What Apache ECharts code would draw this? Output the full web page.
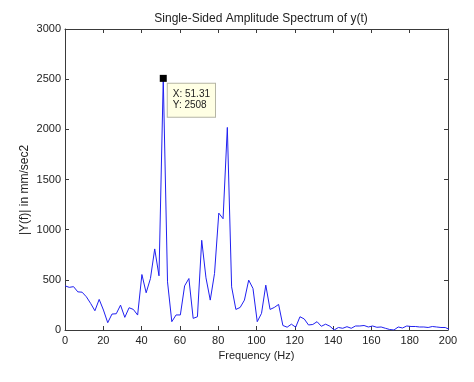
<!DOCTYPE html>
<html>
<head>
<meta charset="utf-8">
<script src="https://cdn.jsdelivr.net/npm/echarts@6/dist/echarts.min.js"></script>
<style>
html,body{margin:0;padding:0;background:#fff;}
#chart{width:474px;height:382px;}
</style>
</head>
<body>
<div id="chart"></div>
<script>
// Frequency bin spacing (Hz) - peak bin 23 sits at 51.31 Hz
const FREQ_STEP = 51.31 / 23;
// Amplitude |Y(f)| per frequency bin (mm/sec2)
const amplitude = [440, 425, 432, 380, 377, 331, 265, 192, 305, 199,
  73, 159, 162, 248, 126, 222, 205, 149, 553, 371,
  513, 808, 540, 2508, 480, 83, 150, 150, 440, 513,
  116, 132, 894, 520, 298, 563, 1165, 1109, 2019, 430,
  205, 225, 298, 497, 414, 83, 166, 447, 205, 225,
  255, 45, 28, 58, 28, 132, 110, 50, 55, 83,
  37, 58, 38, 0, 25, 17, 33, 17, 40, 40,
  45, 30, 40, 27, 30, 17, 5, 0, 30, 20,
  40, 35, 35, 30, 30, 25, 35, 30, 25, 25, 5];
const frequencies = amplitude.map((_, i) => i * FREQ_STEP);
const xTicks = [0, 20, 40, 60, 80, 100, 120, 140, 160, 180, 200];
const yTicks = [0, 500, 1000, 1500, 2000, 2500, 3000];

const titleText = 'Single-Sided Amplitude Spectrum of y(t)';
const xName = 'Frequency (Hz)';
const yName = '|Y(f)| in mm/sec2';

let peakIdx = 0;
amplitude.forEach((v, i) => { if (v > amplitude[peakIdx]) peakIdx = i; });

const FONT = 'Liberation Sans, Arial, sans-serif';
const axisColor = '#3a3a3a';
const textColor = '#222';

const chart = echarts.init(document.getElementById('chart'), null, {renderer: 'canvas'});

const baseX = {
  type: 'value', min: xTicks[0], max: xTicks[xTicks.length - 1], interval: xTicks[1] - xTicks[0],
  axisLine: {show: true, onZero: false, lineStyle: {color: axisColor, width: 1}},
  axisTick: {show: true, inside: true, length: 4, lineStyle: {color: axisColor}},
  splitLine: {show: false}
};
const baseY = {
  type: 'value', min: yTicks[0], max: yTicks[yTicks.length - 1], interval: yTicks[1] - yTicks[0],
  axisLine: {show: true, onZero: false, lineStyle: {color: axisColor, width: 1}},
  axisTick: {show: true, inside: true, length: 4, lineStyle: {color: axisColor}},
  splitLine: {show: false}
};

chart.setOption({
  animation: false,
  backgroundColor: '#fff',
  title: {
    text: titleText, left: 256, top: 8, textAlign: 'center',
    textStyle: {fontFamily: FONT, fontSize: 12, fontWeight: 'normal', color: textColor}
  },
  grid: {left: 65, right: 26, top: 29, bottom: 52},
  xAxis: [
    Object.assign({}, baseX, {
      position: 'bottom',
      name: xName, nameLocation: 'middle', nameGap: 18,
      nameTextStyle: {fontFamily: FONT, fontSize: 11, color: textColor},
      axisLabel: {show: true, margin: 5, fontFamily: FONT, fontSize: 11, color: textColor,
        formatter: v => String(v)}
    }),
    Object.assign({}, baseX, {position: 'top', axisLabel: {show: false}})
  ],
  yAxis: [
    Object.assign({}, baseY, {
      position: 'left',
      axisLabel: {show: true, margin: 4, fontFamily: FONT, fontSize: 11, color: textColor,
        formatter: v => String(v)}
    }),
    Object.assign({}, baseY, {position: 'right', axisLabel: {show: false}})
  ],
  graphic: [{
    type: 'text', x: 25, y: 190, rotation: Math.PI / 2,
    style: {text: yName, font: '12px ' + FONT, fill: textColor, align: 'center', verticalAlign: 'middle'}
  }],
  series: [{
    type: 'line',
    xAxisIndex: 0, yAxisIndex: 0,
    data: frequencies.map((f, i) => [f, amplitude[i]]),
    showSymbol: false,
    clip: true,
    lineStyle: {color: '#2020f0', width: 1},
    markPoint: {
      symbol: 'rect', symbolSize: 7,
      itemStyle: {color: '#000'},
      data: [{
        type: 'max',
        label: {
          show: true,
          position: [8, 9],
          align: 'left', verticalAlign: 'top',
          formatter: () => 'X: ' + frequencies[peakIdx].toFixed(2) + '\nY: ' + amplitude[peakIdx],
          fontFamily: FONT, fontSize: 10, lineHeight: 11, color: '#222',
          backgroundColor: '#ffffe4', borderColor: '#b5b5a5', borderWidth: 1,
          padding: [5, 5, 6, 5]
        }
      }]
    }
  }]
});
</script>
</body>
</html>
